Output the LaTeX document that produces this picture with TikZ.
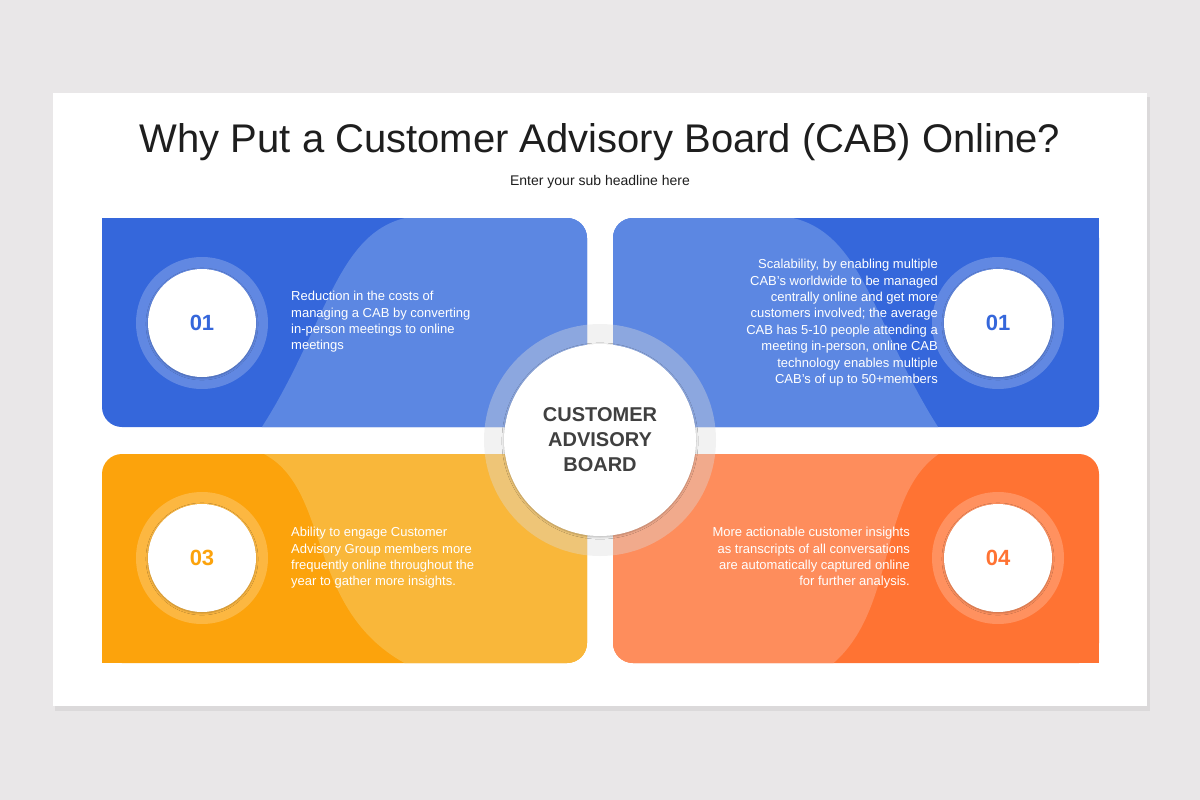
\documentclass[tikz,border=0pt]{standalone}
\usepackage{fontspec}
\setmainfont{Liberation Sans}
\usetikzlibrary{shadows.blur}
\definecolor{bg}{HTML}{E9E7E8}
\definecolor{bD}{HTML}{3567DB}\definecolor{bL}{HTML}{5C87E2}
\definecolor{yD}{HTML}{FCA30C}\definecolor{yL}{HTML}{F9B73A}
\definecolor{oD}{HTML}{FF7333}\definecolor{oL}{HTML}{FE8D5C}
\definecolor{txt}{HTML}{1E1E1E}\definecolor{ctxt}{HTML}{404040}
\tikzset{
  body/.style={font=\fontsize{13}{16.4}\selectfont, text=white, inner sep=0pt},
  num/.style={font=\fontsize{22}{26}\selectfont\bfseries, inner sep=0pt},
  ring/.style={fill=white, fill opacity=0.22, draw=none},
  disc/.style={fill=white, draw=none, blur shadow={shadow blur steps=6, shadow xshift=0pt, shadow yshift=-1pt, shadow opacity=25}}
}
\begin{document}
\begin{tikzpicture}[x=1pt,y=-1pt]
\fill[bg] (0,0) rectangle (1200,800);
\useasboundingbox (0,0) rectangle (1200,800);
\fill[black, opacity=0.06] (55,97) rectangle (1150,711);
\fill[white] (53,93) rectangle (1147,706);
\node[font=\fontsize{40}{46}\selectfont, text=txt] (title) at (600,142) {Why Put a Customer Advisory Board (CAB) Online?};
\node[font=\fontsize{14}{16}\selectfont, text=txt] (sub) at (600,182) {Enter your sub headline here};
% panels
\fill[bD, rounded corners=20pt] (102,218) rectangle (587,427); \fill[bD] (102,218) rectangle (140,250);
\fill[bD, rounded corners=20pt] (613,218) rectangle (1099,427); \fill[bD] (1060,218) rectangle (1099,250);
\fill[yD, rounded corners=20pt] (102,454) rectangle (587,663); \fill[yD] (102,630) rectangle (140,663);
\fill[oD, rounded corners=20pt] (613,454) rectangle (1099,663); \fill[oD] (1060,630) rectangle (1099,663);
\begin{scope}\clip[rounded corners=20pt] (102,218) rectangle (587,427);
\fill[bL] (405,218) .. controls (335,235) and (325,330) .. (260,430) -- (600,430) -- (600,210) -- cycle;\end{scope}
\begin{scope}\clip[rounded corners=20pt] (613,218) rectangle (1099,427);
\fill[bL] (793,218) .. controls (865,235) and (875,330) .. (940,430) -- (600,430) -- (600,210) -- cycle;\end{scope}
\begin{scope}\clip[rounded corners=20pt] (102,454) rectangle (587,663);
\fill[yL] (255,450) .. controls (335,480) and (300,610) .. (410,666) -- (600,666) -- (600,450) -- cycle;\end{scope}
\begin{scope}\clip[rounded corners=20pt] (613,454) rectangle (1099,663);
\fill[oL] (945,450) .. controls (875,490) and (900,610) .. (830,666) -- (600,666) -- (600,450) -- cycle;\end{scope}
% small circles
\foreach \n/\x/\y in {a/202/323,b/998/323,c/202/558,d/998/558}{
  \fill[ring] (\x,\y) circle (66pt);
  \fill[disc] (\x,\y) circle (54pt);
  \coordinate (\n) at (\x,\y);}
\node[num, text=bD] (na) at (a) {01};
\node[num, text=bD] (nb) at (b) {01};
\node[num, text=yD] (nc) at (c) {03};
\node[num, text=oD] (nd) at (d) {04};
% texts
\node[body, anchor=north west, align=left] (ta) at (291,291) {Reduction in the costs of\\managing a CAB by converting\\in-person meetings to online\\meetings};
\node[body, anchor=north east, align=right] (tb) at (938,259) {Scalability, by enabling multiple\\CAB's worldwide to be managed\\centrally online and get more\\customers involved; the average\\CAB has 5-10 people attending a\\meeting in-person, online CAB\\technology enables multiple\\CAB's of up to 50+members};
\node[body, anchor=north west, align=left] (tc) at (291,527) {Ability to engage Customer\\Advisory Group members more\\frequently online throughout the\\year to gather more insights.};
\node[body, anchor=north east, align=right] (td) at (910,527) {More actionable customer insights\\as transcripts of all conversations\\are automatically captured online\\for further analysis.};
% center
\fill[white, opacity=0.35] (600,440) circle (116pt);
\fill[black, opacity=0.05] (600,440) circle (116pt);
\fill[disc] (600,440) circle (96pt);
\node[font=\fontsize{20}{25}\selectfont\bfseries, text=ctxt, align=center] (center) at (600,440) {CUSTOMER\\ADVISORY\\BOARD};
\end{tikzpicture}
\end{document}
